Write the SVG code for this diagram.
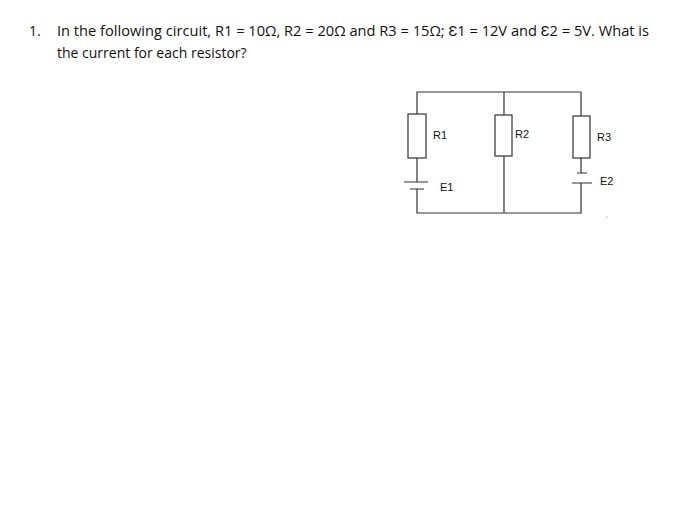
<svg xmlns="http://www.w3.org/2000/svg" width="700" height="525" viewBox="0 0 700 525">
<style>
.q{font-family:"Open Sans","Liberation Sans",sans-serif;font-size:14px;fill:#111}
.l{font-family:"Liberation Sans",Arial,sans-serif;font-size:11px;fill:#111}
.w{stroke:#333;stroke-width:1.2;fill:none}
.r{stroke:#333;stroke-width:1.2;fill:#fff}
</style>
<rect width="700" height="525" fill="#fff"/>
<text class="q" x="29" y="36">1.</text>
<text class="q" x="57" y="36" textLength="592" lengthAdjust="spacingAndGlyphs">In the following circuit, R1 = 10Ω, R2 = 20Ω and R3 = 15Ω; Ɛ1 = 12V and Ɛ2 = 5V.  What is</text>
<text class="q" x="57" y="58">the current for each resistor?</text>
<g id="wires">
<path class="w" d="M417,114 V92 H581 V116 M504,92 V115 M504,156 V213 M417,158 V182 M417,189 V213 H581 V183 M581,158 V173"/>
</g>
<g id="R1"><rect class="r" x="408" y="114" width="18" height="44"/><text class="l" x="433" y="139">R1</text></g>
<g id="R2"><rect class="r" x="495" y="115" width="17" height="41"/><text class="l" x="515" y="138">R2</text></g>
<g id="R3"><rect class="r" x="573" y="116" width="17" height="42"/><text class="l" x="597" y="141">R3</text></g>
<g id="E1"><path class="w" d="M404,182 H428 M410,189 H424"/><text class="l" x="440" y="191">E1</text></g>
<g id="E2"><path class="w" d="M577,173 H587 M572,183 H592"/><text class="l" x="600" y="185">E2</text></g>
<circle cx="607" cy="217" r="0.6" fill="#888"/>
</svg>
